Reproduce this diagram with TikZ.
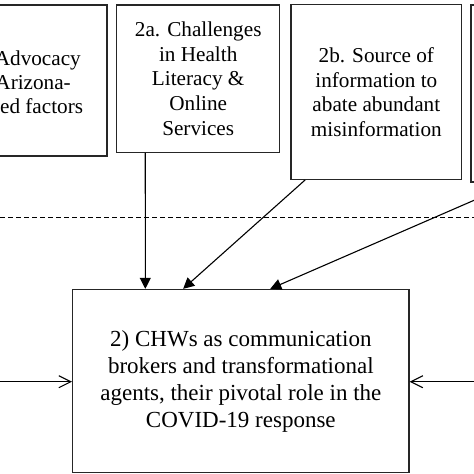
\documentclass[tikz,border=0pt]{standalone}
\usepackage{fontspec}
\setmainfont{Liberation Serif}
\usetikzlibrary{arrows.meta,calc}
\begin{document}
\begin{tikzpicture}[x=1pt,y=-1pt,
  box/.style={draw=black!85, line width=1.3pt, inner sep=0pt, align=center},
  toptext/.style={font=\fontsize{21.2}{24.6}\selectfont},
  maintext/.style={font=\fontsize{23}{27}\selectfont},
  frag/.style={toptext, inner sep=0pt, anchor=base east},
  conn/.style={line width=1.1pt, -{Triangle[length=11pt,width=11pt]}},
  side/.style={line width=1.1pt, -{Straight Barb[length=12pt,width=12pt,line width=1.1pt]}},
  sep/.style={line width=1pt, dash pattern=on 4.7pt off 3.3pt}]
\useasboundingbox (0,0) rectangle (474,474);
\clip (0,0) rectangle (474,474);
% boxes
\node[box, minimum width=167pt, minimum height=151pt] (b1) at (23.5,80.5) {};
\node[frag] (b1t1) at (81,65) {Advocacy};
\node[frag] (b1t2) at (71,89) {Arizona-};
\node[frag] (b1t3) at (83.3,113) {ed factors};
\node[box, toptext, minimum width=163pt, minimum height=147.3pt] (b2a) at (198.2,78.65)
  {2a. Challenges\\in Health\\Literacy \&\\Online\\Services};
\node[box, toptext, minimum width=170.7pt, minimum height=174.6pt] (b2b) at (376.35,92)
  {2b. Source of\\information to\\abate abundant\\misinformation};
\node[box, minimum width=169pt, minimum height=177pt] (b3) at (555.5,93.5) {};
\node[box, maintext, minimum width=336.3pt, minimum height=183pt] (main) at (240.85,381)
  {2) CHWs as communication\\brokers and transformational\\agents, their pivotal role in the\\COVID-19 response};
% dashed separator
\coordinate (d1) at (0,217.7);
\coordinate (d2) at (474,217.7);
\draw[sep] (d1) -- (d2);
% connectors
\draw[conn] ($(b2a.south west)!0.178!(b2a.south east)$) -- ($(main.north west)!0.217!(main.north east)$);
\draw[conn] ($(b2b.south west)!0.086!(b2b.south east)$) -- ($(main.north west)!0.329!(main.north east)$);
\draw[conn] ($(b3.south west)!0.26!(b3.south east)$) -- ($(main.north west)!0.587!(main.north east)$);
\coordinate (lsrc) at (-5,381.7);
\coordinate (rsrc) at (480,381.7);
\draw[side] (lsrc) -- (lsrc -| main.west);
\draw[side] (rsrc) -- (rsrc -| main.east);
\end{tikzpicture}
\end{document}
